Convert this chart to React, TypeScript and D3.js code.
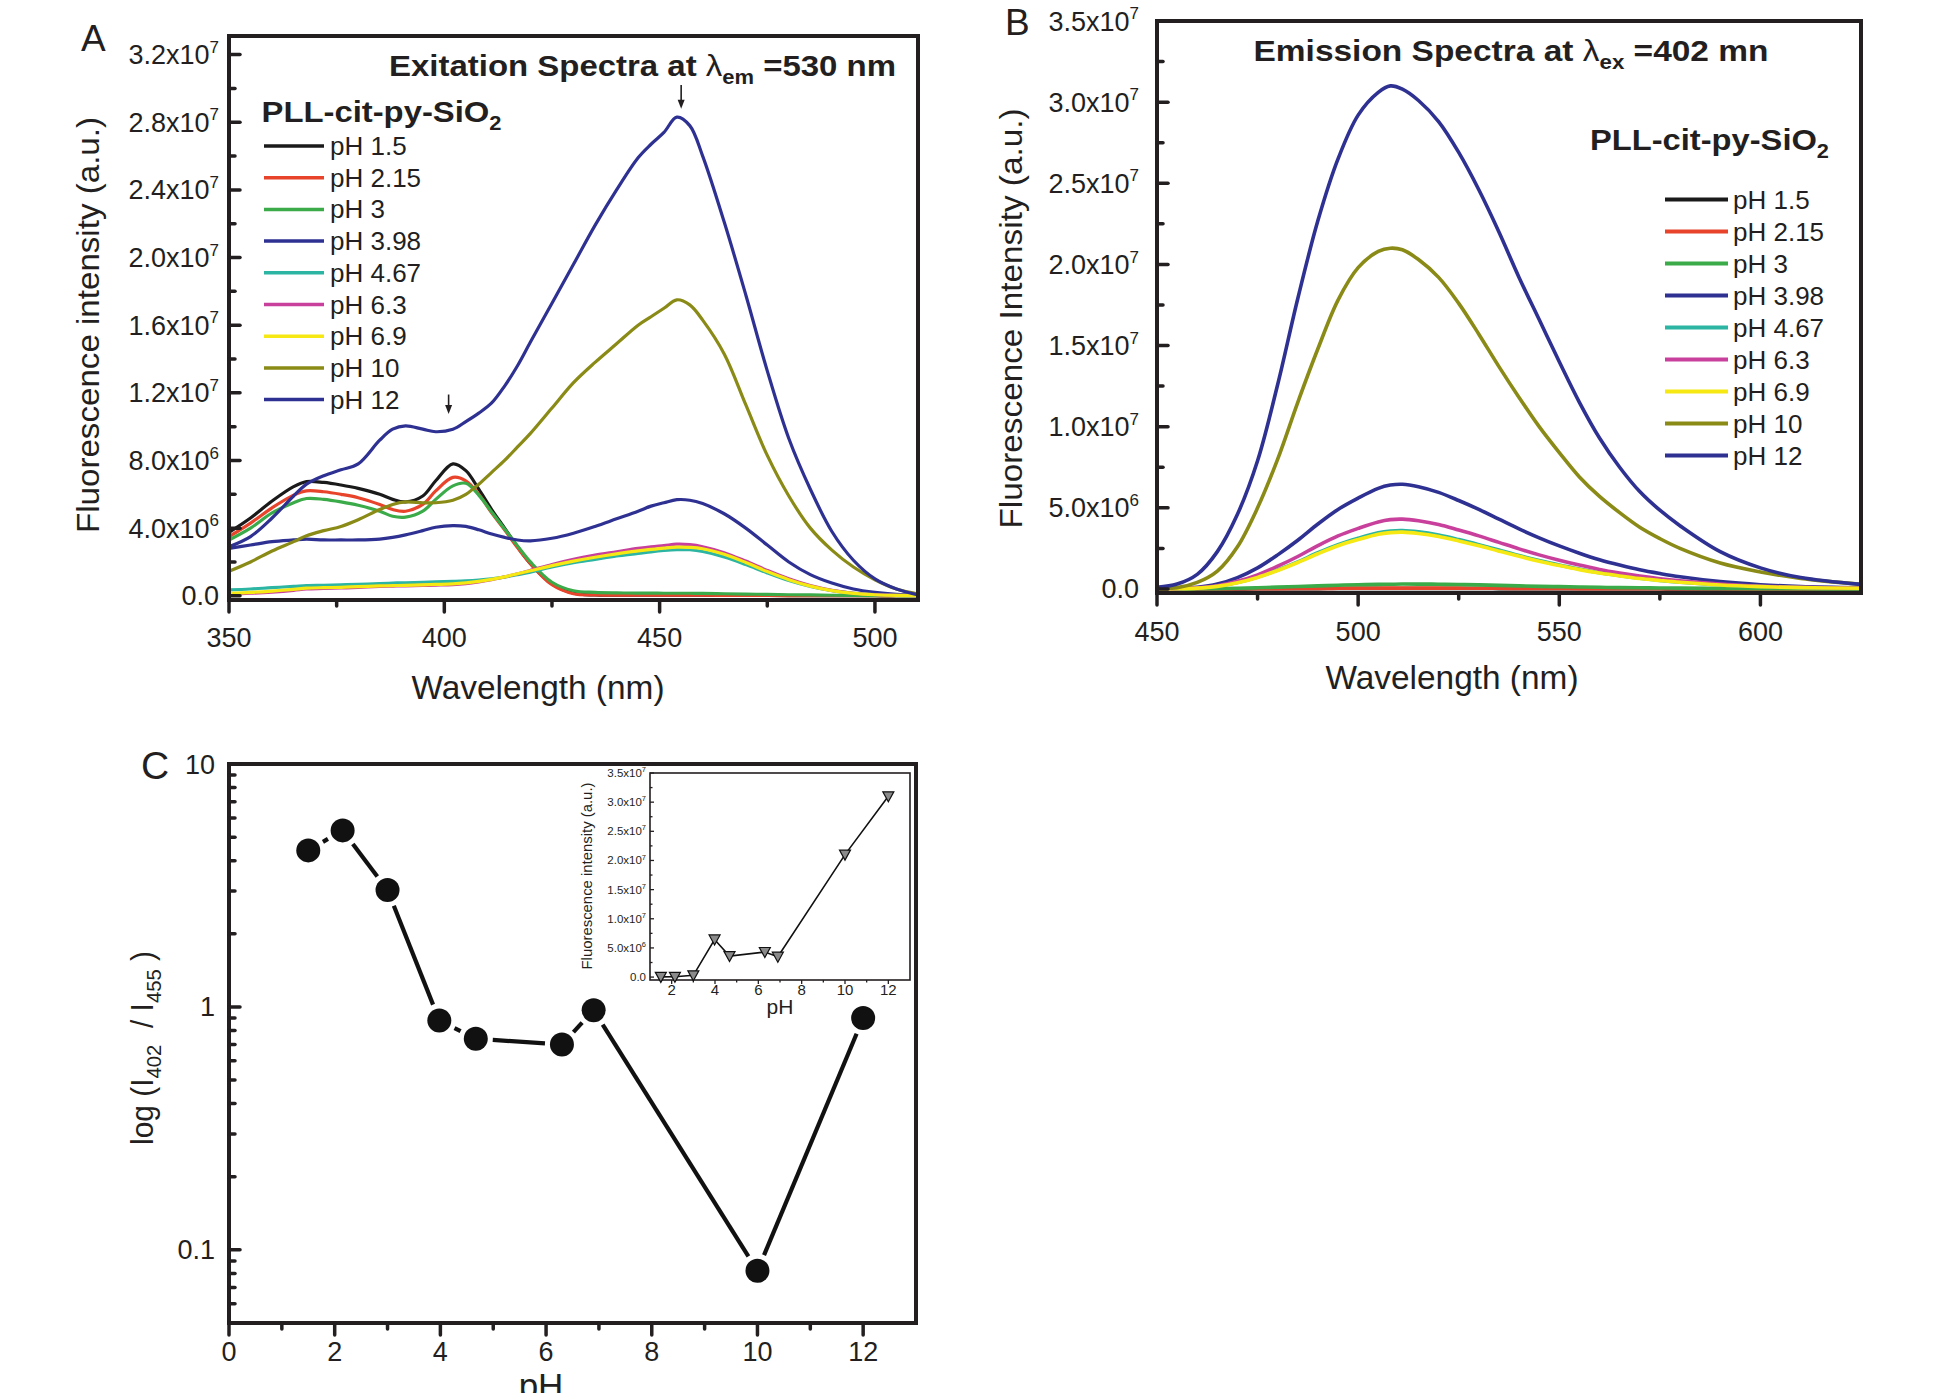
import React from 'react';
import * as d3 from 'd3';

const FONT = "'Liberation Sans', Arial, Helvetica, sans-serif";
const INK = '#231f20';

const PH_LABELS = ['pH 1.5', 'pH 2.15', 'pH 3', 'pH 3.98', 'pH 4.67', 'pH 6.3', 'pH 6.9', 'pH 10', 'pH 12'];
const COLORS = ['#1a1a1a', '#e8432b', '#3bab49', '#2e3192', '#2bb5a2', '#c8409b', '#f5e813', '#8a8a16', '#2e3192'];

// Panel A: excitation spectra (values in 1e6 a.u.)
const WL_A = [350, 355, 360, 365, 368, 372, 376, 380, 385, 388, 391, 395, 398, 402, 405, 408, 411, 414, 417, 420, 425, 430, 435, 440, 445, 448, 451, 454, 457, 460, 465, 470, 475, 480, 485, 490, 495, 500, 505, 510];
const EXC_PH1_5 = [3.75, 4.6, 5.6, 6.45, 6.75, 6.7, 6.55, 6.35, 6.0, 5.7, 5.55, 5.9, 6.8, 7.8, 7.4, 6.3, 5.1, 4.0, 2.9, 1.9, 0.7, 0.15, 0.05, 0.04, 0.03, 0.03, 0.03, 0.03, 0.03, 0.03, 0.02, 0.02, 0.02, 0.01, 0.01, 0.01, 0.01, 0, 0, 0];
const EXC_PH2_15 = [3.5, 4.3, 5.2, 5.95, 6.2, 6.15, 6.0, 5.8, 5.4, 5.1, 5.0, 5.4, 6.2, 7.0, 6.8, 6.0, 4.9, 3.9, 2.85, 1.9, 0.65, 0.12, 0.05, 0.04, 0.03, 0.03, 0.03, 0.03, 0.03, 0.03, 0.02, 0.02, 0.02, 0.01, 0.01, 0.01, 0.01, 0, 0, 0];
const EXC_PH3 = [3.3, 4.0, 4.9, 5.5, 5.75, 5.7, 5.55, 5.35, 5.0, 4.7, 4.65, 5.0, 5.7, 6.5, 6.65, 5.95, 4.95, 3.95, 2.95, 2.0, 0.8, 0.3, 0.2, 0.17, 0.16, 0.16, 0.15, 0.15, 0.15, 0.14, 0.12, 0.1, 0.08, 0.06, 0.05, 0.03, 0.02, 0.01, 0, 0];
const EXC_PH3_98 = [2.8, 3.0, 3.2, 3.3, 3.35, 3.3, 3.3, 3.3, 3.35, 3.45, 3.6, 3.85, 4.05, 4.15, 4.1, 3.9, 3.65, 3.45, 3.3, 3.25, 3.4, 3.7, 4.1, 4.55, 5.0, 5.3, 5.5, 5.68, 5.65, 5.45, 4.85, 4.0, 3.0, 2.0, 1.25, 0.75, 0.4, 0.2, 0.08, 0.02];
const EXC_PH4_67 = [0.35, 0.4, 0.48, 0.55, 0.6, 0.62, 0.65, 0.68, 0.72, 0.75, 0.77, 0.8, 0.82, 0.85, 0.88, 0.93, 1.0, 1.1, 1.25, 1.4, 1.7, 1.95, 2.15, 2.35, 2.5, 2.6, 2.68, 2.73, 2.72, 2.62, 2.3, 1.85, 1.35, 0.9, 0.55, 0.3, 0.15, 0.07, 0.03, 0.01];
const EXC_PH6_3 = [0.1, 0.15, 0.22, 0.32, 0.4, 0.43, 0.46, 0.5, 0.55, 0.57, 0.59, 0.61, 0.63, 0.66, 0.72, 0.82, 0.95, 1.12, 1.3, 1.5, 1.85, 2.15, 2.4, 2.6, 2.8, 2.9, 2.97, 3.05, 3.02, 2.9, 2.55, 2.05, 1.5, 1.0, 0.6, 0.32, 0.15, 0.07, 0.03, 0.01];
const EXC_PH6_9 = [0.15, 0.2, 0.28, 0.38, 0.45, 0.48, 0.5, 0.54, 0.58, 0.6, 0.62, 0.65, 0.67, 0.7, 0.76, 0.85, 0.97, 1.12, 1.3, 1.48, 1.78, 2.05, 2.28, 2.48, 2.65, 2.74, 2.82, 2.88, 2.86, 2.78, 2.45, 1.97, 1.43, 0.95, 0.57, 0.3, 0.14, 0.06, 0.02, 0.01];
const EXC_PH10 = [1.45, 2.0, 2.65, 3.2, 3.55, 3.85, 4.1, 4.5, 5.1, 5.4, 5.55, 5.5, 5.5, 5.65, 6.0, 6.6, 7.3, 8.0, 8.8, 9.6, 11.1, 12.6, 13.8, 14.9, 16.0, 16.5, 17.0, 17.5, 17.2, 16.3, 14.3, 11.3, 8.3, 5.9, 4.0, 2.7, 1.7, 0.95, 0.4, 0.1];
const EXC_PH12 = [2.9, 3.5, 4.6, 5.9, 6.6, 7.1, 7.45, 7.8, 9.2, 9.85, 10.05, 9.85, 9.7, 9.85, 10.3, 10.8, 11.4, 12.4, 13.6, 15.0, 17.3, 19.6, 21.9, 24.0, 25.9, 26.7, 27.4, 28.3, 27.8, 26.0, 22.1, 17.8, 13.3, 9.3, 6.3, 3.8, 2.1, 1.0, 0.4, 0.05];
const EXC_SERIES = [EXC_PH1_5, EXC_PH2_15, EXC_PH3, EXC_PH3_98, EXC_PH4_67, EXC_PH6_3, EXC_PH6_9, EXC_PH10, EXC_PH12];
const ARROWS_A = [{ wl: 401, top: 11.9, tip: 10.75 }, { wl: 455, top: 30.2, tip: 28.8 }];

// Panel B: emission spectra (values in 1e6 a.u.)
const WL_B = [450, 455, 460, 465, 470, 475, 480, 485, 490, 495, 500, 505, 508, 511, 515, 520, 525, 530, 535, 540, 545, 550, 555, 560, 565, 570, 575, 580, 590, 600, 610, 625];
const EM_PH1_5 = [0, 0, 0, 0, 0, 0.01, 0.01, 0.02, 0.02, 0.03, 0.03, 0.03, 0.03, 0.03, 0.03, 0.03, 0.03, 0.03, 0.02, 0.02, 0.02, 0.02, 0.01, 0.01, 0.01, 0.01, 0.01, 0, 0, 0, 0, 0];
const EM_PH2_15 = [0, 0, 0, 0, 0.01, 0.01, 0.02, 0.03, 0.03, 0.04, 0.05, 0.05, 0.05, 0.05, 0.05, 0.05, 0.05, 0.04, 0.04, 0.03, 0.03, 0.03, 0.02, 0.02, 0.02, 0.01, 0.01, 0.01, 0.01, 0, 0, 0];
const EM_PH3 = [0, 0, 0.01, 0.02, 0.04, 0.07, 0.11, 0.15, 0.19, 0.23, 0.26, 0.28, 0.29, 0.3, 0.3, 0.29, 0.27, 0.25, 0.22, 0.19, 0.16, 0.14, 0.12, 0.1, 0.08, 0.07, 0.06, 0.05, 0.03, 0.02, 0.01, 0];
const EM_PH3_98 = [0, 0.02, 0.1, 0.3, 0.7, 1.3, 2.1, 3.0, 4.0, 4.9, 5.6, 6.2, 6.4, 6.45, 6.3, 5.95, 5.45, 4.9, 4.3, 3.7, 3.15, 2.65, 2.2, 1.8, 1.47, 1.18, 0.95, 0.75, 0.45, 0.26, 0.15, 0.07];
const EM_PH4_67 = [0, 0.01, 0.06, 0.17, 0.39, 0.73, 1.17, 1.67, 2.23, 2.73, 3.12, 3.46, 3.57, 3.6, 3.52, 3.32, 3.04, 2.73, 2.4, 2.06, 1.76, 1.48, 1.23, 1.0, 0.82, 0.66, 0.53, 0.42, 0.25, 0.15, 0.08, 0.04];
const EM_PH6_3 = [0, 0.01, 0.07, 0.2, 0.47, 0.87, 1.4, 2.0, 2.67, 3.27, 3.73, 4.13, 4.27, 4.3, 4.2, 3.97, 3.63, 3.27, 2.87, 2.47, 2.1, 1.77, 1.47, 1.2, 0.98, 0.79, 0.63, 0.5, 0.3, 0.17, 0.1, 0.05];
const EM_PH6_9 = [0, 0.01, 0.05, 0.16, 0.38, 0.71, 1.14, 1.63, 2.17, 2.66, 3.04, 3.37, 3.47, 3.5, 3.42, 3.23, 2.96, 2.66, 2.33, 2.01, 1.71, 1.44, 1.19, 0.98, 0.8, 0.64, 0.52, 0.41, 0.24, 0.14, 0.08, 0.04];
const EM_PH10 = [0.05, 0.08, 0.4, 1.1, 2.6, 5.0, 8.0, 11.5, 14.8, 17.8, 19.8, 20.8, 21.0, 20.9, 20.3, 19.2, 17.6, 15.7, 13.7, 11.8, 10.0, 8.4, 6.9, 5.7, 4.7, 3.8, 3.1, 2.5, 1.6, 1.05, 0.65, 0.28];
const EM_PH12 = [0.1, 0.3, 0.9, 2.3, 4.6, 7.9, 12.6, 17.9, 22.7, 26.5, 29.2, 30.6, 31.0, 30.8, 30.1, 28.8, 26.9, 24.6, 22.0, 19.2, 16.6, 14.0, 11.5, 9.3, 7.5, 6.0, 4.85, 3.9, 2.3, 1.3, 0.7, 0.28];
const EM_SERIES = [EM_PH1_5, EM_PH2_15, EM_PH3, EM_PH3_98, EM_PH4_67, EM_PH6_3, EM_PH6_9, EM_PH10, EM_PH12];

// Panel C
const PH_VALUES = [1.5, 2.15, 3, 3.98, 4.67, 6.3, 6.9, 10, 12];
const RATIO_402_455 = [4.41, 5.33, 3.03, 0.88, 0.74, 0.7, 0.97, 0.082, 0.9];
const PEAK_EMISSION = [0.03, 0.05, 0.3, 6.45, 3.6, 4.3, 3.5, 21.0, 31.0];

// ticks
const A_X_MAJOR = [350, 400, 450, 500];
const A_X_MINOR = [375, 425, 475];
const A_Y_MAJOR = [0, 4, 8, 12, 16, 20, 24, 28, 32];
const A_Y_MINOR = [2, 6, 10, 14, 18, 22, 26, 30];
const B_X_MAJOR = [450, 500, 550, 600];
const B_X_MINOR = [475, 525, 575];
const B_Y_MAJOR = [0, 5, 10, 15, 20, 25, 30, 35];
const B_Y_MINOR = [2.5, 7.5, 12.5, 17.5, 22.5, 27.5, 32.5];
const C_X_MAJOR = [0, 2, 4, 6, 8, 10, 12];
const C_X_MINOR = [1, 3, 5, 7, 9, 11];
const C_Y_MAJOR = [0.1, 1, 10];
const C_Y_MINOR = [0.06, 0.07, 0.08, 0.09, 0.2, 0.3, 0.4, 0.5, 0.6, 0.7, 0.8, 0.9, 2, 3, 4, 5, 6, 7, 8, 9];
const IN_X_MAJOR = [2, 4, 6, 8, 10, 12];
const IN_X_MINOR = [3, 5, 7, 9, 11];
const IN_Y_MAJOR = [0, 5, 10, 15, 20, 25, 30, 35];
const IN_Y_MINOR = [2.5, 7.5, 12.5, 17.5, 22.5, 27.5, 32.5];

function sciParts(v: number) {
  if (v === 0) return { m: '0.0', e: '' };
  const val = v * 1e6;
  const e = Math.floor(Math.log10(val) + 1e-9);
  const m = (val / Math.pow(10, e)).toFixed(1);
  return { m, e: String(e) };
}

function SciText({ x, y, v, size, supSize }: any) {
  const p = sciParts(v);
  return (
    <text x={x} y={y} fontSize={size} textAnchor="end" fontFamily={FONT} fill={INK}>
      {p.e ? `${p.m}x10` : p.m}
      {p.e ? <tspan dy={-size * 0.42} fontSize={supSize}>{p.e}</tspan> : null}
    </text>
  );
}

export default function App() {
  const xA = d3.scaleLinear().domain([350, 510]).range([229, 918]);
  const yA = d3.scaleLinear().domain([-0.25, 33.1]).range([600, 36]);
  const xB = d3.scaleLinear().domain([450, 625]).range([1157, 1861]);
  const yB = d3.scaleLinear().domain([-0.25, 35]).range([593, 21]);
  const xC = d3.scaleLinear().domain([0, 13]).range([229, 916]);
  const yC = d3.scaleLog().domain([0.05, 10]).range([1323, 764]);
  const xI = d3.scaleLinear().domain([1, 13]).range([650, 910]);
  const yI = d3.scaleLinear().domain([-0.5, 35]).range([980, 773]);

  const curve = d3.curveCatmullRom.alpha(0.5);
  const lineA = (vals: number[]) =>
    d3.line<number>().x((_, i) => xA(WL_A[i])).y((d) => yA(d)).curve(curve)(vals) || '';
  const lineB = (vals: number[]) =>
    d3.line<number>().x((_, i) => xB(WL_B[i])).y((d) => yB(d)).curve(curve)(vals) || '';

  const [a0, a1] = xA.range();
  const [aB, aT] = yA.range();
  const [b0, b1] = xB.range();
  const [bB, bT] = yB.range();
  const [c0, c1] = xC.range();
  const [cB, cT] = yC.range();
  const [i0, i1] = xI.range();
  const [iB, iT] = yI.range();

  const frameW = 4;

  const R = 12;
  const gap = R + 5;
  const cPts = PH_VALUES.map((p, i) => [xC(p), yC(RATIO_402_455[i])]);
  const cSegs = cPts.slice(1).map((p, i) => {
    const q = cPts[i];
    const dx = p[0] - q[0];
    const dy = p[1] - q[1];
    const L = Math.hypot(dx, dy);
    const ux = dx / L, uy = dy / L;
    return [q[0] + ux * gap, q[1] + uy * gap, p[0] - ux * gap, p[1] - uy * gap];
  });
  const insetLine = d3.line<number>().x((_, i) => xI(PH_VALUES[i])).y((d) => yI(d))(PEAK_EMISSION) || '';

  return (
    <svg width={1936} height={1393} style={{ position: 'absolute', left: 0, top: 0, background: '#fff' }} fontFamily={FONT}>
      <rect x={0} y={0} width={1936} height={1393} fill="#fff" />
      <defs>
        <clipPath id="clipA"><rect x={a0} y={aT} width={a1 - a0} height={aB - aT} /></clipPath>
        <clipPath id="clipB"><rect x={b0} y={bT} width={b1 - b0} height={bB - bT} /></clipPath>
      </defs>

      {/* ================= Panel A ================= */}
      <text x={81} y={51} fontSize={37} fill={INK}>A</text>
      <g clipPath="url(#clipA)">
        {EXC_SERIES.map((s, i) => (
          <path key={i} d={lineA(s)} fill="none" stroke={COLORS[i]} strokeWidth={3.2} strokeLinejoin="round" />
        ))}
      </g>
      <rect x={a0} y={aT} width={a1 - a0} height={aB - aT} fill="none" stroke={INK} strokeWidth={frameW} />
      {A_X_MAJOR.map((t) => (
        <line key={'axm' + t} x1={xA(t)} x2={xA(t)} y1={aB} y2={aB + 12} stroke={INK} strokeWidth={3.5} strokeLinecap="round" />
      ))}
      {A_X_MINOR.map((t) => (
        <line key={'axn' + t} x1={xA(t)} x2={xA(t)} y1={aB} y2={aB + 6} stroke={INK} strokeWidth={3.5} strokeLinecap="round" />
      ))}
      {A_Y_MAJOR.map((t) => (
        <line key={'aym' + t} x1={a0} x2={a0 + 11} y1={yA(t)} y2={yA(t)} stroke={INK} strokeWidth={3.5} strokeLinecap="round" />
      ))}
      {A_Y_MINOR.map((t) => (
        <line key={'ayn' + t} x1={a0} x2={a0 + 6} y1={yA(t)} y2={yA(t)} stroke={INK} strokeWidth={3.5} strokeLinecap="round" />
      ))}
      {A_X_MAJOR.map((t) => (
        <text key={'axl' + t} x={xA(t)} y={647} fontSize={27} textAnchor="middle" fill={INK}>{t}</text>
      ))}
      {A_Y_MAJOR.map((t) => (
        <SciText key={'ayl' + t} x={219} y={yA(t) + 9.5} v={t} size={27} supSize={17} />
      ))}
      <text x={538} y={699} fontSize={34} textAnchor="middle" fill={INK} textLength={253} lengthAdjust="spacingAndGlyphs">Wavelength (nm)</text>
      <text transform="translate(99,325) rotate(-90)" fontSize={31} textAnchor="middle" fill={INK} textLength={416} lengthAdjust="spacingAndGlyphs">Fluorescence intensity (a.u.)</text>
      <text x={389} y={76} fontSize={30} fontWeight="bold" fill={INK} textLength={507} lengthAdjust="spacingAndGlyphs">
        Exitation Spectra at <tspan fontWeight="normal">λ</tspan><tspan dy={8} fontSize={20}>em</tspan><tspan dy={-8}> =530 nm</tspan>
      </text>
      <text x={261.5} y={122} fontSize={30} fontWeight="bold" fill={INK} textLength={240} lengthAdjust="spacingAndGlyphs">
        PLL-cit-py-SiO<tspan dy={8} fontSize={20}>2</tspan>
      </text>
      {PH_LABELS.map((lab, i) => {
        const y = 146 + i * 31.7;
        return (
          <g key={'lgA' + i}>
            <line x1={264} x2={324} y1={y} y2={y} stroke={COLORS[i]} strokeWidth={3.5} />
            <text x={330} y={y + 9} fontSize={26} fill={INK}>{lab}</text>
          </g>
        );
      })}
      {ARROWS_A.map((a, i) => {
        const x = xA(a.wl);
        const yt = yA(a.tip);
        return (
          <g key={'arr' + i}>
            <line x1={x} x2={x} y1={yA(a.top)} y2={yt - 6} stroke={INK} strokeWidth={1.6} />
            <path d={`M${x - 3.5},${yt - 9} L${x + 3.5},${yt - 9} L${x},${yt} Z`} fill={INK} />
          </g>
        );
      })}

      {/* ================= Panel B ================= */}
      <text x={1005} y={35} fontSize={37} fill={INK}>B</text>
      <g clipPath="url(#clipB)">
        {EM_SERIES.map((s, i) => (
          <path key={i} d={lineB(s)} fill="none" stroke={COLORS[i]} strokeWidth={3.6} strokeLinejoin="round" />
        ))}
      </g>
      <rect x={b0} y={bT} width={b1 - b0} height={bB - bT} fill="none" stroke={INK} strokeWidth={frameW} />
      {B_X_MAJOR.map((t) => (
        <line key={'bxm' + t} x1={xB(t)} x2={xB(t)} y1={bB} y2={bB + 12} stroke={INK} strokeWidth={3.5} strokeLinecap="round" />
      ))}
      {B_X_MINOR.map((t) => (
        <line key={'bxn' + t} x1={xB(t)} x2={xB(t)} y1={bB} y2={bB + 6} stroke={INK} strokeWidth={3.5} strokeLinecap="round" />
      ))}
      {B_Y_MAJOR.map((t) => (
        <line key={'bym' + t} x1={b0} x2={b0 + 11} y1={yB(t)} y2={yB(t)} stroke={INK} strokeWidth={3.5} strokeLinecap="round" />
      ))}
      {B_Y_MINOR.map((t) => (
        <line key={'byn' + t} x1={b0} x2={b0 + 6} y1={yB(t)} y2={yB(t)} stroke={INK} strokeWidth={3.5} strokeLinecap="round" />
      ))}
      {B_X_MAJOR.map((t) => (
        <text key={'bxl' + t} x={xB(t)} y={641} fontSize={27} textAnchor="middle" fill={INK}>{t}</text>
      ))}
      {B_Y_MAJOR.map((t) => (
        <SciText key={'byl' + t} x={1139} y={yB(t) + 9.5} v={t} size={27} supSize={17} />
      ))}
      <text x={1452} y={689} fontSize={34} textAnchor="middle" fill={INK} textLength={253} lengthAdjust="spacingAndGlyphs">Wavelength (nm)</text>
      <text transform="translate(1022,318.5) rotate(-90)" fontSize={31} textAnchor="middle" fill={INK} textLength={420} lengthAdjust="spacingAndGlyphs">Fluorescence Intensity (a.u.)</text>
      <text x={1253.5} y={61} fontSize={30} fontWeight="bold" fill={INK} textLength={515} lengthAdjust="spacingAndGlyphs">
        Emission Spectra at <tspan fontWeight="normal">λ</tspan><tspan dy={8} fontSize={20}>ex</tspan><tspan dy={-8}> =402 mn</tspan>
      </text>
      <text x={1590} y={150} fontSize={30} fontWeight="bold" fill={INK} textLength={239} lengthAdjust="spacingAndGlyphs">
        PLL-cit-py-SiO<tspan dy={8} fontSize={20}>2</tspan>
      </text>
      {PH_LABELS.map((lab, i) => {
        const y = 199.5 + i * 32;
        return (
          <g key={'lgB' + i}>
            <line x1={1665} x2={1728} y1={y} y2={y} stroke={COLORS[i]} strokeWidth={3.8} />
            <text x={1733} y={y + 9} fontSize={26} fill={INK}>{lab}</text>
          </g>
        );
      })}

      {/* ================= Panel C ================= */}
      <text x={141} y={779} fontSize={39} fill={INK}>C</text>
      <rect x={c0} y={cT} width={c1 - c0} height={cB - cT} fill="none" stroke={INK} strokeWidth={frameW} />
      {C_X_MAJOR.map((t) => (
        <line key={'cxm' + t} x1={xC(t)} x2={xC(t)} y1={cB} y2={cB + 12} stroke={INK} strokeWidth={3.5} strokeLinecap="round" />
      ))}
      {C_X_MINOR.map((t) => (
        <line key={'cxn' + t} x1={xC(t)} x2={xC(t)} y1={cB} y2={cB + 6} stroke={INK} strokeWidth={3.5} strokeLinecap="round" />
      ))}
      {C_Y_MAJOR.map((t) => (
        <line key={'cym' + t} x1={c0} x2={c0 + 11} y1={yC(t)} y2={yC(t)} stroke={INK} strokeWidth={3.5} strokeLinecap="round" />
      ))}
      {C_Y_MINOR.map((t) => (
        <line key={'cyn' + t} x1={c0} x2={c0 + 6} y1={yC(t)} y2={yC(t)} stroke={INK} strokeWidth={3.5} strokeLinecap="round" />
      ))}
      {C_X_MAJOR.map((t) => (
        <text key={'cxl' + t} x={xC(t)} y={1361} fontSize={27} textAnchor="middle" fill={INK}>{t}</text>
      ))}
      {C_Y_MAJOR.map((t) => (
        <text key={'cyl' + t} x={215} y={yC(t) + 9.5} fontSize={27} textAnchor="end" fill={INK}>{String(t)}</text>
      ))}
      <text x={541} y={1398} fontSize={35} textAnchor="middle" fill={INK}>pH</text>
      <text transform="translate(153,1048) rotate(-90)" fontSize={31} textAnchor="middle" fill={INK} textLength={194} lengthAdjust="spacingAndGlyphs">
        log (I<tspan dy={8} fontSize={21}>402</tspan><tspan dy={-8}>{'\u00a0 / I'}</tspan><tspan dy={8} fontSize={21}>455</tspan><tspan dy={-8}>{'\u00a0)'}</tspan>
      </text>
      {cSegs.map((s, i) => (
        <line key={'cs' + i} x1={s[0]} y1={s[1]} x2={s[2]} y2={s[3]} stroke="#111" strokeWidth={4.2} />
      ))}
      {cPts.map((p, i) => (
        <circle key={'cp' + i} cx={p[0]} cy={p[1]} r={R} fill="#111" />
      ))}

      {/* inset */}
      <rect x={i0} y={iT} width={i1 - i0} height={iB - iT} fill="#fff" stroke={INK} strokeWidth={1.6} />
      {IN_X_MAJOR.map((t) => (
        <line key={'ixm' + t} x1={xI(t)} x2={xI(t)} y1={iB} y2={iB + 4} stroke={INK} strokeWidth={1.3} />
      ))}
      {IN_X_MINOR.map((t) => (
        <line key={'ixn' + t} x1={xI(t)} x2={xI(t)} y1={iB} y2={iB + 2.5} stroke={INK} strokeWidth={1.3} />
      ))}
      {IN_Y_MAJOR.map((t) => (
        <line key={'iym' + t} x1={i0} x2={i0 + 4} y1={yI(t)} y2={yI(t)} stroke={INK} strokeWidth={1.3} />
      ))}
      {IN_Y_MINOR.map((t) => (
        <line key={'iyn' + t} x1={i0} x2={i0 + 2.5} y1={yI(t)} y2={yI(t)} stroke={INK} strokeWidth={1.3} />
      ))}
      {IN_X_MAJOR.map((t) => (
        <text key={'ixl' + t} x={xI(t)} y={995} fontSize={15} textAnchor="middle" fill={INK}>{t}</text>
      ))}
      {IN_Y_MAJOR.map((t) => (
        <SciText key={'iyl' + t} x={646} y={yI(t) + 4} v={t} size={11.5} supSize={7.5} />
      ))}
      <text x={780} y={1014} fontSize={21} textAnchor="middle" fill={INK}>pH</text>
      <text transform="translate(592,876) rotate(-90)" fontSize={14.5} textAnchor="middle" fill={INK} textLength={187} lengthAdjust="spacingAndGlyphs">Fluorescence intensity (a.u.)</text>
      <path d={insetLine} fill="none" stroke="#111" strokeWidth={1.6} />
      {PH_VALUES.map((p, i) => {
        const x = xI(p);
        const y = yI(PEAK_EMISSION[i]);
        return (
          <path key={'it' + i} d={`M${x - 5.5},${y - 4.5} L${x + 5.5},${y - 4.5} L${x},${y + 5.5} Z`} fill="#8a8a8a" stroke="#111" strokeWidth={1.2} />
        );
      })}
    </svg>
  );
}
